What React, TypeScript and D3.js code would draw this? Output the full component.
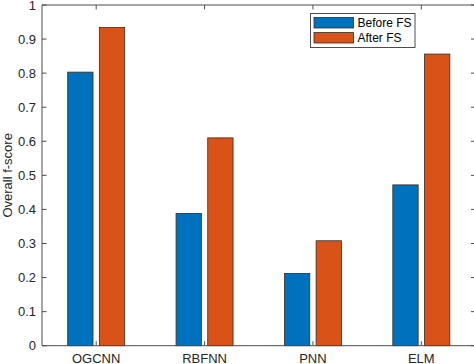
import React, { useEffect, useRef } from 'react';
import * as d3 from 'd3';

// chart data
const categories = ['OGCNN', 'RBFNN', 'PNN', 'ELM'];
const seriesNames = ['Before FS', 'After FS'];
const beforeFS = [0.803, 0.388, 0.212, 0.472];
const afterFS = [0.934, 0.61, 0.308, 0.856];
const yTicks = [0, 0.1, 0.2, 0.3, 0.4, 0.5, 0.6, 0.7, 0.8, 0.9, 1];
const colors = ['#0072BD', '#D95319'];

const W = 474;
const H = 364;

const App = () => {
  const svgRef = useRef<SVGSVGElement>(null);

  useEffect(() => {
    const svg = d3.select(svgRef.current);
    svg.selectAll('*').remove();

    const left = 42, right = 475.5, top = 5, bottom = 345.7;
    const font = 'Liberation Sans, Arial, Helvetica, sans-serif';
    const axisColor = '#4d4d4d';

    const x = d3.scalePoint<string>().domain(categories).range([left, right]).padding(0.5);
    const inner = d3.scaleBand<string>().domain(seriesNames).range([-28.5, 28.5]).paddingInner(0.2);
    const y = d3.scaleLinear().domain([0, 1]).range([bottom, top]);

    svg.append('rect').attr('width', W).attr('height', H).attr('fill', '#fff');

    // bars
    const series = [beforeFS, afterFS];
    series.forEach((vals, si) => {
      svg.append('g')
        .selectAll('rect')
        .data(vals)
        .enter().append('rect')
        .attr('x', (d, i) => (x(categories[i]) as number) + (inner(seriesNames[si]) as number))
        .attr('y', d => y(d))
        .attr('width', inner.bandwidth())
        .attr('height', d => y(0) - y(d))
        .attr('fill', colors[si])
        .attr('stroke', '#3a2a22')
        .attr('stroke-width', 0.8);
    });

    // axes box
    const g = svg.append('g').attr('stroke', axisColor).attr('fill', 'none').attr('stroke-width', 1);
    g.append('line').attr('x1', left).attr('x2', right).attr('y1', bottom).attr('y2', bottom);
    g.append('line').attr('x1', left).attr('x2', right).attr('y1', top).attr('y2', top);
    g.append('line').attr('x1', left).attr('x2', left).attr('y1', top).attr('y2', bottom);
    g.append('line').attr('x1', right).attr('x2', right).attr('y1', top).attr('y2', bottom);

    const tl = 4.5;
    yTicks.forEach(t => {
      g.append('line').attr('x1', left).attr('x2', left + tl).attr('y1', y(t)).attr('y2', y(t));
      g.append('line').attr('x1', right).attr('x2', right - tl).attr('y1', y(t)).attr('y2', y(t));
    });
    categories.forEach(c => {
      const cx = x(c) as number;
      g.append('line').attr('x1', cx).attr('x2', cx).attr('y1', bottom).attr('y2', bottom - tl);
      g.append('line').attr('x1', cx).attr('x2', cx).attr('y1', top).attr('y2', top + tl);
    });

    // tick labels
    svg.append('g').selectAll('text').data(yTicks).enter().append('text')
      .attr('x', left - 6)
      .attr('y', d => y(d))
      .attr('dy', '0.35em')
      .attr('text-anchor', 'end')
      .attr('font-family', font)
      .attr('font-size', 13)
      .attr('fill', '#262626')
      .text(d => d3.format('~g')(d));

    svg.append('g').selectAll('text').data(categories).enter().append('text')
      .attr('x', d => x(d) as number)
      .attr('y', bottom + 17)
      .attr('text-anchor', 'middle')
      .attr('font-family', font)
      .attr('font-size', 13)
      .attr('fill', '#262626')
      .text(d => d);

    svg.append('text')
      .attr('transform', `translate(12,${(top + bottom) / 2}) rotate(-90)`)
      .attr('text-anchor', 'middle')
      .attr('font-family', font)
      .attr('font-size', 13)
      .attr('fill', '#262626')
      .text('Overall f-score');

    // legend
    const lg = svg.append('g').attr('transform', 'translate(310.5,13.5)');
    lg.append('rect').attr('width', 104.5).attr('height', 34)
      .attr('fill', '#fff').attr('stroke', axisColor).attr('stroke-width', 1);
    seriesNames.forEach((s, i) => {
      lg.append('rect').attr('x', 3.5).attr('y', 4 + i * 15).attr('width', 39.5).attr('height', 10.5)
        .attr('fill', colors[i]).attr('stroke', '#3a2a22').attr('stroke-width', 0.8);
      lg.append('text').attr('x', 47).attr('y', 9.5 + i * 15).attr('dy', '0.35em')
        .attr('font-family', font).attr('font-size', 12).attr('fill', '#000')
        .text(s);
    });
  });

  return (
    <svg ref={svgRef} width={W} height={H} style={{ position: 'absolute', left: 0, top: 0 }}></svg>
  );
};

export default App;
